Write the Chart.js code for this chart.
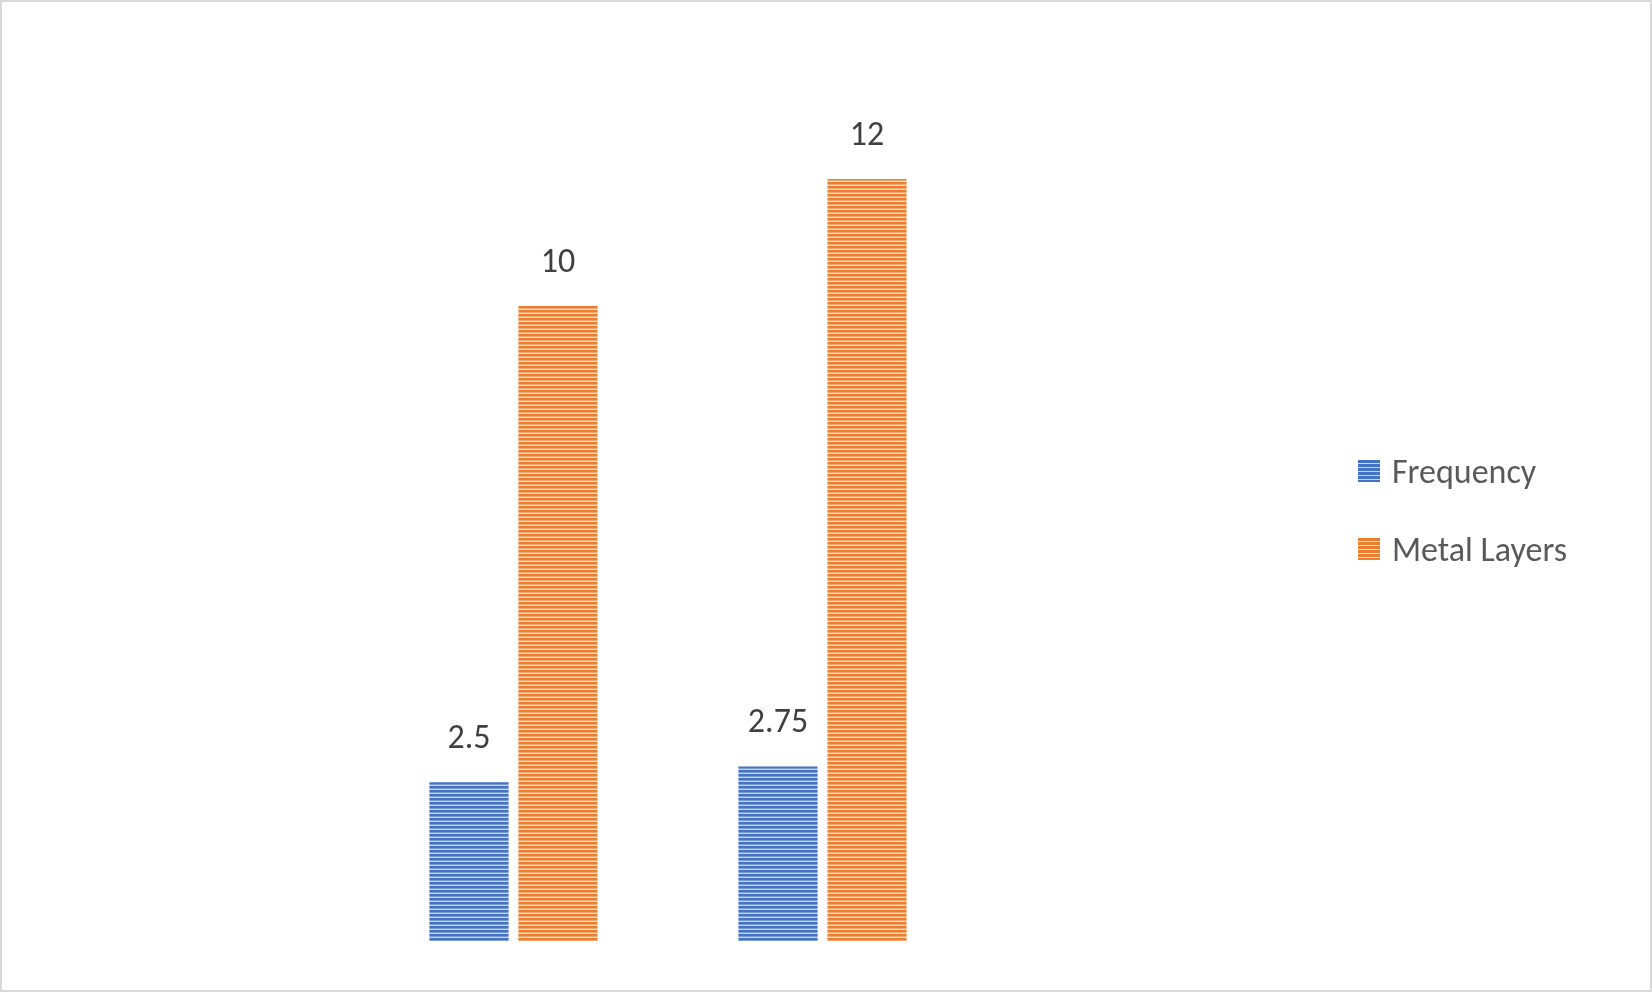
<!DOCTYPE html>
<html><head><meta charset="utf-8">
<script src="https://cdn.jsdelivr.net/npm/chart.js@4"></script>
<style>
html,body{margin:0;padding:0;background:#fff}
#wrap{position:relative;width:1652px;height:992px;box-sizing:border-box;border:2px solid #d9d9d9}
#legend{position:absolute;left:1356px;top:430px;font-family:Calibri,Carlito,"Open Sans",sans-serif;font-size:34px;color:#595959}
#legend div{display:flex;align-items:center;height:78px}
#legend span.sw{display:inline-block;width:22px;height:22px;margin-right:12px}
</style></head><body>
<div id="wrap"><canvas id="c" width="1648" height="988"></canvas>
<div id="legend"></div></div>
<script>
const categories = ['A', 'B'];
const frequency = [2.5, 2.75];
const metalLayers = [10, 12];
const seriesNames = ['Frequency', 'Metal Layers'];
const colours = ['#4472c4', '#ed7d31'];

function stripes(col) {
  const p = document.createElement('canvas');
  p.width = 4; p.height = 4;
  const g = p.getContext('2d');
  g.fillStyle = '#fbe3d2';
  if (col === '#4472c4') g.fillStyle = '#c9d6ef';
  g.fillRect(0, 0, 4, 4);
  g.fillStyle = col;
  g.fillRect(0, 0, 4, 2.6);
  return document.getElementById('c').getContext('2d').createPattern(p, 'repeat');
}

const labelPlugin = {
  id: 'vals',
  afterDatasetsDraw(chart) {
    const ctx = chart.ctx;
    ctx.save();
    ctx.font = '34px Calibri, Carlito, "Open Sans", sans-serif';
    ctx.fillStyle = '#404040';
    ctx.textAlign = 'center';
    ctx.textBaseline = 'bottom';
    chart.data.datasets.forEach((ds, i) => {
      chart.getDatasetMeta(i).data.forEach((bar, j) => {
        ctx.fillText(String(ds.data[j]), bar.x, bar.y - 26);
      });
    });
    ctx.restore();
  }
};

new Chart(document.getElementById('c'), {
  type: 'bar',
  data: {
    labels: categories,
    datasets: [
      { label: seriesNames[0], data: frequency, backgroundColor: stripes(colours[0]) },
      { label: seriesNames[1], data: metalLayers, backgroundColor: stripes(colours[1]) }
    ]
  },
  options: {
    responsive: false,
    animation: false,
    layout: { padding: { left: 357, right: 673, top: 50, bottom: 49 } },
    categoryPercentage: 0.576,
    barPercentage: 0.89,
    scales: {
      x: { display: false },
      y: { display: false, min: 0, max: 14 }
    },
    plugins: { legend: { display: false }, tooltip: { enabled: false } }
  },
  plugins: [labelPlugin]
});

const lg = document.getElementById('legend');
seriesNames.forEach((n, i) => {
  const d = document.createElement('div');
  const s = document.createElement('span');
  s.className = 'sw';
  s.style.background = `repeating-linear-gradient(${colours[i]} 0 2.6px, ${i ? '#fbe3d2' : '#c9d6ef'} 2.6px 4px)`;
  d.appendChild(s);
  d.appendChild(document.createTextNode(n));
  lg.appendChild(d);
});
</script>
</body></html>
